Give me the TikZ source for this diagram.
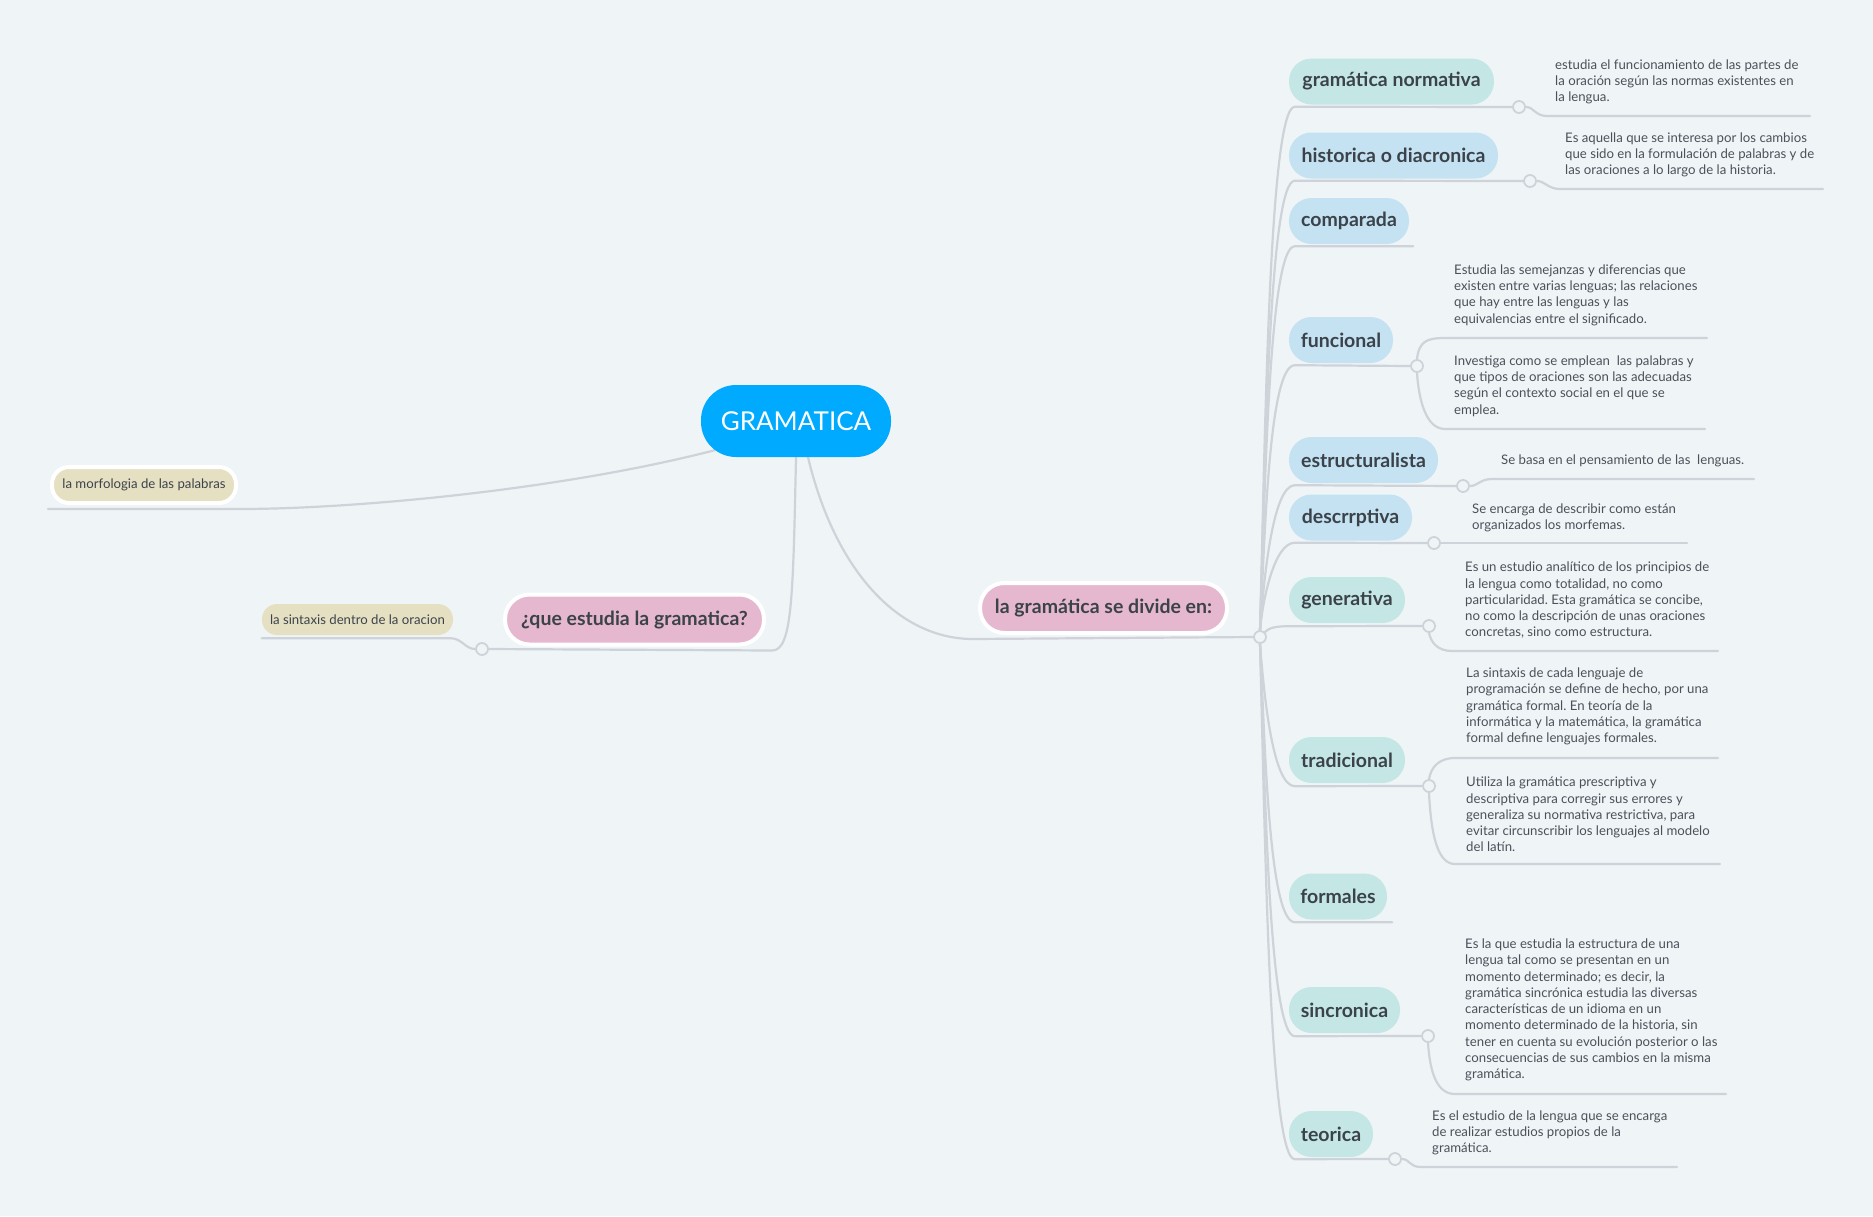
\documentclass[tikz,border=0pt]{standalone}
\usepackage{fontspec}
\setmainfont{Lato}
\usetikzlibrary{calc}
\frenchspacing
\definecolor{bgc}{HTML}{EFF4F7}
\definecolor{linec}{HTML}{CDD3D8}
\definecolor{gramc}{HTML}{00AAFF}
\definecolor{pinkc}{HTML}{E6B8CF}
\definecolor{tealc}{HTML}{C4E7E6}
\definecolor{bluec}{HTML}{C4E2F1}
\definecolor{tanc}{HTML}{E6E0C3}
\definecolor{txtc}{HTML}{3B4249}
\definecolor{notec}{HTML}{4A5159}
\pgfdeclarelayer{bglayer}
\pgfsetlayers{bglayer,main}
\tikzset{
  conn/.style={draw=linec, line width=2.2pt, line cap=round},
  knob/.style={circle, draw=linec, line width=1.8pt, fill=bgc, minimum size=12pt, inner sep=0pt},
  pill/.style={rectangle, rounded corners=22.5pt, minimum height=46pt, inner sep=0pt, text=txtc,
    font=\fontsize{19.5}{22}\selectfont\bfseries},
  tealbox/.style={pill, fill=tealc},
  bluebox/.style={pill, fill=bluec},
  pinkbox/.style={pill, fill=pinkc, draw=white, line width=4pt, minimum height=50pt, rounded corners=24.5pt},
  tanbox/.style={rectangle, rounded corners=15pt, minimum height=31pt, inner sep=0pt, fill=tanc, text=txtc,
    font=\fontsize{13.2}{15}\selectfont},
  note/.style={anchor=west, align=left, inner sep=0pt, text=notec, font=\fontsize{13.2}{16.25}\selectfont},
}
\begin{document}
\begin{tikzpicture}[x=1pt, y=-1pt]
\useasboundingbox (0,0) rectangle (1873,1216);
\begin{pgfonlayer}{bglayer}
\fill[bgc] (0,0) rectangle (1873,1216);
\end{pgfonlayer}

% central and level-1 nodes
\node[rectangle, rounded corners=35pt, fill=gramc, minimum width=190pt, minimum height=72pt, inner sep=0pt,
  text=white, font=\fontsize{26}{30}\selectfont] (gram) at (796,421) {GRAMATICA};
\node[pinkbox, minimum width=247pt] (div) at (1103.5,608) {la gramática se divide en:};
\node[pinkbox, minimum width=259pt] (que) at (634.5,619.5) {¿que estudia la gramatica?};
\node[tanbox, draw=white, line width=4pt, minimum width=184pt, minimum height=36pt, rounded corners=17pt] (morf) at (144,485) {la morfologia de las palabras};
\node[tanbox, minimum width=191pt] (sint) at (357.5,619.5) {la sintaxis dentro de la oracion};

% right children
\node[tealbox, minimum width=205pt] (gn) at (1391.5,81.5) {gramática normativa};
\node[bluebox, minimum width=209pt] (hist) at (1393.5,155.5) {historica o diacronica};
\node[bluebox, minimum width=120pt] (comp) at (1349,221) {comparada};
\node[bluebox, minimum width=104pt] (func) at (1341,340) {funcional};
\node[bluebox, minimum width=149pt] (estr) at (1363.5,460) {estructuralista};
\node[bluebox, minimum width=123pt] (desc) at (1350.5,517.5) {descrrptiva};
\node[tealbox, minimum width=116pt] (gen) at (1347,600) {generativa};
\node[tealbox, minimum width=116pt] (trad) at (1347,760) {tradicional};
\node[tealbox, minimum width=98pt] (form) at (1338,896.5) {formales};
\node[tealbox, minimum width=111pt] (sinc) at (1344.5,1010) {sincronica};
\node[tealbox, minimum width=84pt] (teor) at (1331,1134) {teorica};

% knobs
\node[knob] (J) at (1260,637) {};
\node[knob] (qk) at (482,649) {};
\node[knob] (gnk) at (1519,107) {};
\node[knob] (hk) at (1530,181) {};
\node[knob] (fk) at (1417,366) {};
\node[knob] (ek) at (1463,486) {};
\node[knob] (dk) at (1434,543) {};
\node[knob] (gk) at (1429,626) {};
\node[knob] (tk) at (1429,786) {};
\node[knob] (sk) at (1428,1036) {};
\node[knob] (tek) at (1395,1159) {};

% notes
\node[note] (gnN) at (1555,82) {estudia el funcionamiento de las partes de\\la oración según las normas existentes en\\la lengua.};
\node[note] (hN) at (1565,155) {Es aquella que se interesa por los cambios\\que sido en la formulación de palabras y de\\las oraciones a lo largo de la historia.};
\node[note] (fN1) at (1454,295) {Estudia las semejanzas y diferencias que\\existen entre varias lenguas; las relaciones\\que hay entre las lenguas y las\\equivalencias entre el significado.};
\node[note] (fN2) at (1454,386) {Investiga como se emplean~ las palabras y\\que tipos de oraciones son las adecuadas\\según el contexto social en el que se\\emplea.};
\node[note] (eN) at (1501,461) {Se basa en el pensamiento de las~ lenguas.};
\node[note] (dN) at (1472,518) {Se encarga de describir como están\\organizados los morfemas.};
\node[note] (gN) at (1465,600.5) {Es un estudio analítico de los principios de\\la lengua como totalidad, no como\\particularidad. Esta gramática se concibe,\\no como la descripción de unas oraciones\\concretas, sino como estructura.};
\node[note] (tN1) at (1466,706.5) {La sintaxis de cada lenguaje de\\programación se define de hecho, por una\\gramática formal. En teoría de la\\informática y la matemática, la gramática\\formal define lenguajes formales.};
\node[note] (tN2) at (1466,814.5) {Utiliza la gramática prescriptiva y\\descriptiva para corregir sus errores y\\generaliza su normativa restrictiva, para\\evitar circunscribir los lenguajes al modelo\\del latín.};
\node[note] (sN) at (1465,1010) {Es la que estudia la estructura de una\\lengua tal como se presentan en un\\momento determinado; es decir, la\\gramática sincrónica estudia las diversas\\características de un idioma en un\\momento determinado de la historia, sin\\tener en cuenta su evolución posterior o las\\consecuencias de sus cambios en la misma\\gramática.};
\node[note] (teN) at (1432,1133) {Es el estudio de la lengua que se encarga\\de realizar estudios propios de la\\gramática.};

% line end coordinates
\coordinate (gnA) at (1547,116); \coordinate (gnB) at (1810,116);
\coordinate (hA) at (1560,189); \coordinate (hB) at (1823,189);
\coordinate (fA) at (1445,338); \coordinate (fB) at (1707,338);
\coordinate (fC) at (1445,429); \coordinate (fD) at (1705,429);
\coordinate (eA) at (1492,479); \coordinate (eB) at (1754,479);
\coordinate (dB) at (1687,543);
\coordinate (gA) at (1452,651); \coordinate (gB) at (1718,651);
\coordinate (tA) at (1455,758); \coordinate (tB) at (1718,758);
\coordinate (tC) at (1455,864); \coordinate (tD) at (1720,864);
\coordinate (sA) at (1455,1094); \coordinate (sB) at (1726,1094);
\coordinate (teA) at (1421,1167); \coordinate (teB) at (1677,1167);

\begin{pgfonlayer}{bglayer}
% central connectors
\draw[conn] ($(gram.south)+(12,0)$) .. controls +(27,113) and +(-75,0) .. ($(div.south west)+(-5,4)$) -- (J.west);
\draw[conn] (gram.south) .. controls +(-3,143) and +(20,0) .. ($(que.south east)+(6,4)$) -- (qk.east);
\draw[conn] (qk.west) .. controls +(-10,0) and +(12,0) .. ($(sint.south east)+(-3,3)$) -- ($(sint.south west)+(0,3)$);
\draw[conn] ($(gram.south west)+(14,-7)$) .. controls +(-155,40) and +(112,0) .. ($(morf.south east)+(2,4)$) -- ($(morf.south west)+(-2,4)$);

% trunk to right children
\draw[conn] (J.north) .. controls +(5,-185) and +(-26,0) .. ($(gn.south west)+(6,2)$) -- (gnk.west);
\draw[conn] (J.north) .. controls +(5,-160) and +(-26,0) .. ($(hist.south west)+(6,2)$) -- (hk.west);
\draw[conn] (J.north) .. controls +(5,-137) and +(-26,0) .. ($(comp.south west)+(6,2)$) -- ($(comp.south east)+(4,2)$);
\draw[conn] (J.north) .. controls +(5,-95) and +(-26,0) .. ($(func.south west)+(6,2)$) -- (fk.west);
\draw[conn] (J.north) .. controls +(4,-53) and +(-22,0) .. ($(estr.south west)+(6,2)$) -- (ek.west);
\draw[conn] (J.north) .. controls +(3,-33) and +(-20,0) .. ($(desc.south west)+(6,2)$) -- (dk.west);
\draw[conn] (J.north east) .. controls +(6,-6) and +(-15,0) .. ($(gen.south west)+(6,3)$) -- (gk.west);
\draw[conn] (J.south) .. controls +(4,52) and +(-22,0) .. ($(trad.south west)+(6,3)$) -- (tk.west);
\draw[conn] (J.south) .. controls +(5,100) and +(-26,0) .. ($(form.south west)+(6,2.5)$) -- ($(form.south east)+(5,2.5)$);
\draw[conn] (J.south) .. controls +(5,140) and +(-26,0) .. ($(sinc.south west)+(6,3)$) -- (sk.west);
\draw[conn] (J.south) .. controls +(5,183) and +(-26,0) .. ($(teor.south west)+(6,2)$) -- (tek.west);

% knobs to notes
\draw[conn] (gnk.east) .. controls +(8,0) and +(-12,0) .. (gnA) -- (gnB);
\draw[conn] (hk.east) .. controls +(8,0) and +(-12,0) .. (hA) -- (hB);
\draw[conn] (fk.north) .. controls +(2,-18) and +(-18,0) .. (fA) -- (fB);
\draw[conn] (fk.south) .. controls +(2,30) and +(-18,0) .. (fC) -- (fD);
\draw[conn] (ek.east) .. controls +(8,0) and +(-12,0) .. (eA) -- (eB);
\draw[conn] (dk.east) -- (dB);
\draw[conn] (gk.south) .. controls +(2,10) and +(-14,0) .. (gA) -- (gB);
\draw[conn] (tk.north) .. controls +(2,-12) and +(-16,0) .. (tA) -- (tB);
\draw[conn] (tk.south) .. controls +(2,40) and +(-18,0) .. (tC) -- (tD);
\draw[conn] (sk.south) .. controls +(2,30) and +(-18,0) .. (sA) -- (sB);
\draw[conn] (tek.east) .. controls +(8,0) and +(-12,0) .. (teA) -- (teB);
\end{pgfonlayer}
\end{tikzpicture}
\end{document}
